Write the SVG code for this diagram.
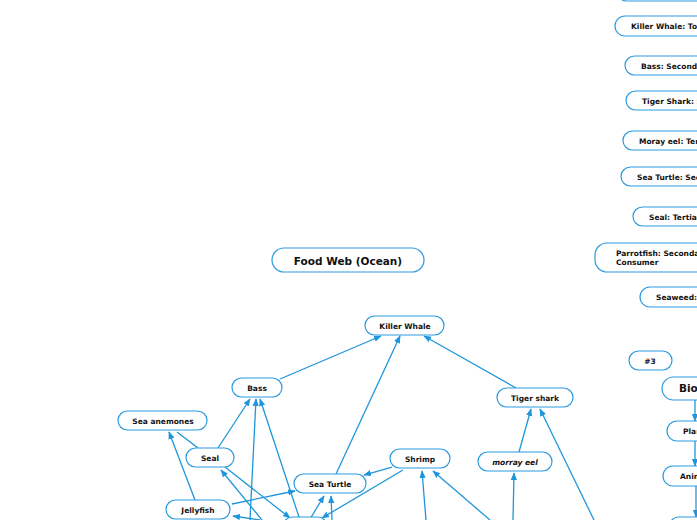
<svg xmlns="http://www.w3.org/2000/svg" width="697" height="520" viewBox="0 0 697 520">
<defs>
<marker id="a" viewBox="0 0 10 10" refX="9" refY="5" markerWidth="6" markerHeight="6" orient="auto"><path d="M0,1 L10,5 L0,9 z" fill="#1f96dc"/></marker>
</defs>
<style>
.n rect{fill:#fff;stroke:#2a9be0;stroke-width:1.2}
.n text{font-family:"DejaVu Sans",sans-serif;font-weight:bold;font-size:7.5px;fill:#111;text-anchor:middle;dominant-baseline:central}
#c line{stroke:#1f96dc;stroke-width:1.3;marker-end:url(#a)}
#c line.p{marker-end:none}
</style>
<rect width="697" height="520" fill="#fff"/>
<g id="c">
<line x1="280" y1="379" x2="381" y2="336"/>
<line x1="336" y1="474" x2="400" y2="336"/>
<line x1="516" y1="388" x2="424" y2="336"/>
<line x1="218" y1="448" x2="250" y2="399"/>
<line class="p" x1="198" y1="448" x2="177" y2="432"/>
<line x1="195" y1="500" x2="169" y2="432"/>
<line x1="232" y1="504" x2="295" y2="491"/>
<line x1="392" y1="467" x2="364" y2="475"/>
<line x1="403" y1="470" x2="322" y2="518"/>
<line x1="310" y1="519" x2="324" y2="496"/>
<line x1="332" y1="520" x2="331" y2="496"/>
<line x1="300" y1="520" x2="260" y2="399"/>
<line x1="250" y1="520" x2="256" y2="399"/>
<line x1="225" y1="467" x2="290" y2="518"/>
<line x1="262" y1="520" x2="221" y2="470"/>
<line x1="260" y1="520" x2="233" y2="516"/>
<line x1="426" y1="520" x2="422" y2="471"/>
<line x1="490" y1="520" x2="433" y2="471"/>
<line x1="513" y1="520" x2="514" y2="473"/>
<line x1="519" y1="452" x2="531" y2="409"/>
<line x1="594" y1="520" x2="540" y2="409"/>
<line x1="695" y1="400" x2="695" y2="421"/>
<line x1="695" y1="441" x2="695" y2="466"/>
<line x1="696" y1="486" x2="696" y2="517"/>
</g>
<g id="title" class="n"><rect x="272" y="248" width="152" height="24" rx="12"/><text x="348" y="261" style="font-size:10.5px">Food Web (Ocean)</text></g>
<g id="kw" class="n"><rect x="365" y="316" width="79" height="19" rx="9.5"/><text x="405" y="326">Killer Whale</text></g>
<g id="bass" class="n"><rect x="232" y="378" width="50" height="19" rx="9.5"/><text x="257" y="388">Bass</text></g>
<g id="anem" class="n"><rect x="118" y="411" width="89" height="19" rx="9.5"/><text x="163" y="421">Sea anemones</text></g>
<g id="seal" class="n"><rect x="186" y="448" width="48" height="19" rx="9.5"/><text x="210" y="458">Seal</text></g>
<g id="shrimp" class="n"><rect x="390" y="449" width="60" height="19" rx="9.5"/><text x="420" y="459">Shrimp</text></g>
<g id="turtle" class="n"><rect x="294" y="474" width="72" height="19" rx="9.5"/><text x="330" y="484">Sea Turtle</text></g>
<g id="tiger" class="n"><rect x="497" y="388" width="76" height="19" rx="9.5"/><text x="535" y="398">Tiger shark</text></g>
<g id="eel" class="n"><rect x="478" y="452" width="74" height="19" rx="9.5"/><text x="515" y="462" style="font-style:italic">morray eel</text></g>
<g id="jelly" class="n"><rect x="166" y="500" width="64" height="19" rx="9.5"/><text x="198" y="510">Jellyfish</text></g>
<g id="bottom" class="n"><rect x="283" y="517" width="44" height="19" rx="9.5"/></g>
<g id="r0" class="n"><rect x="617" y="-18" width="100" height="19" rx="9.5"/></g>
<g id="r1" class="n"><rect x="615" y="16" width="100" height="20" rx="10"/><text x="631" y="26" style="text-anchor:start">Killer Whale: Top</text></g>
<g id="r2" class="n"><rect x="625" y="56" width="90" height="19" rx="9.5"/><text x="641" y="66" style="text-anchor:start">Bass: Seconda</text></g>
<g id="r3" class="n"><rect x="626" y="91" width="90" height="19" rx="9.5"/><text x="642" y="101" style="text-anchor:start">Tiger Shark: S</text></g>
<g id="r4" class="n"><rect x="623" y="131" width="90" height="19" rx="9.5"/><text x="639" y="141" style="text-anchor:start">Moray eel: Tert</text></g>
<g id="r5" class="n"><rect x="621" y="167" width="90" height="19" rx="9.5"/><text x="637" y="177" style="text-anchor:start">Sea Turtle: Sec</text></g>
<g id="r6" class="n"><rect x="633" y="207" width="90" height="19" rx="9.5"/><text x="649" y="217" style="text-anchor:start">Seal: Tertiar</text></g>
<g id="r7" class="n"><rect x="595" y="243" width="120" height="29" rx="12"/><text x="616" y="253" style="text-anchor:start">Parrotfish: Secondar</text><text x="616" y="262" style="text-anchor:start">Consumer</text></g>
<g id="r8" class="n"><rect x="640" y="287" width="90" height="20" rx="10"/><text x="656" y="297" style="text-anchor:start">Seaweed:</text></g>
<g id="r9" class="n"><rect x="629" y="351" width="43" height="19" rx="9.5"/><text x="650" y="361">#3</text></g>
<g id="r10" class="n"><rect x="662" y="377" width="60" height="23" rx="11.5"/><text x="679" y="388" style="text-anchor:start;font-size:10.5px">Bio</text></g>
<g id="r11" class="n"><rect x="667" y="421" width="60" height="20" rx="10"/><text x="683" y="431" style="text-anchor:start">Plan</text></g>
<g id="r12" class="n"><rect x="663" y="466" width="60" height="20" rx="10"/><text x="680" y="476" style="text-anchor:start">Anim</text></g>
<g id="r13" class="n"><rect x="669" y="517" width="60" height="20" rx="10"/></g>
</svg>
